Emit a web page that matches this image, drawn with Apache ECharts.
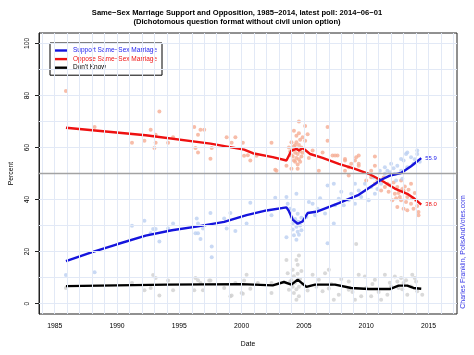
<!DOCTYPE html>
<html><head><meta charset="utf-8">
<script src="https://cdn.jsdelivr.net/npm/echarts@6/dist/echarts.min.js"></script>
<style>html,body{margin:0;padding:0;background:#fff}#c{width:474px;height:355px}</style>
</head><body><div id="c"></div>
<script>
// ---- data ----
const xTickLabels = [1985, 1990, 1995, 2000, 2005, 2010, 2015];
const yTickLabels = [0, 20, 40, 60, 80, 100];
const gridYears = [1984,1985,1986,1987,1988,1989,1990,1991,1992,1993,1994,1995,1996,1997,1998,1999,2000,2001,2002,2003,2004,2005,2006,2007,2008,2009,2010,2011,2012,2013,2014,2015,2016,2017];
const gridPercents = [0, 10, 20, 30, 40, 60, 70, 80, 90, 100];
const midLine = 50;

const supportTrend = [[1985.9,16.3],[1988,19.8],[1990,22.8],[1992.3,26.1],[1994.4,28.2],[1996.5,29.7],[1998.6,31.4],[2000.4,34.0],[2002,35.8],[2003.6,37.0],[2003.8,35.5],[2004.1,32.3],[2004.5,30.7],[2004.9,31.6],[2005.3,34.8],[2006.1,35.4],[2007.8,38.6],[2009.4,41.8],[2010.4,45.0],[2011.2,47.6],[2011.9,49.2],[2012.8,50.2],[2013.6,52.8],[2014.42,55.9]];
const opposeTrend = [[1985.9,67.6],[1992.3,64.7],[1997.5,61.5],[2000.2,59.2],[2000.9,57.8],[2002.5,56.3],[2003.6,55.0],[2004.0,58.8],[2004.4,59.5],[2004.6,58.8],[2004.9,59.8],[2005.5,57.5],[2006.5,56.0],[2007.8,53.7],[2009.1,51.8],[2010.2,49.9],[2011.2,47.4],[2012.3,44.2],[2013.3,42.2],[2013.8,40.6],[2014.42,38.0]];
const dontKnowTrend = [[1985.9,6.7],[1994,7.3],[2000,7.5],[2002.5,7.0],[2003.4,8.3],[2004.0,7.3],[2004.5,9.2],[2005.2,6.4],[2005.9,7.3],[2007.5,7.3],[2008.8,6.0],[2010.2,5.6],[2011.9,5.6],[2012.6,6.9],[2013.3,6.9],[2013.8,6.0],[2014.42,5.7]];

const supportPolls = [[1985.9,11.0],[1988.2,12.0],[1991.2,29.9],[1992.2,31.8],[1992.9,28.7],[1993.1,28.7],[1992.7,27.0],[1993.4,23.9],[1994.5,30.8],[1994.1,28.9],[1996.4,32.7],[1996.5,30.8],[1996.3,27.0],[1996.5,27.0],[1996.7,24.8],[1996.9,28.9],[1997.5,34.8],[1997.6,21.9],[1997.6,17.8],[1998.6,32.7],[1999.1,34.8],[1998.8,28.9],[1999.5,27.9],[2000.4,30.8],[2000.7,38.8],[2002.4,34.0],[2002.7,40.7],
[2003.6,41.0],[2003.7,38.4],[2004.0,33.3],[2004.1,30.8],[2004.4,29.5],[2004.5,27.6],[2004.6,31.4],[2004.8,28.2],[2003.6,25.5],[2004.2,26.3],[2004.4,42.2],[2004.3,32.5],[2004.5,34.5],[2004.2,36.0],[2004.7,30.0],[2004.4,24.5],[2004.6,26.5],[2003.9,36.5],[2004.1,28.5],[2004.8,33.0],[2004.5,31.5],
[2005.2,33.3],[2005.4,39.0],[2005.7,38.4],[2006.1,36.5],[2006.9,23.2],[2007.4,46.1],[2006.7,34.6],[2007.5,37.8],[2007.8,40.3],[2008.2,37.8],[2008.6,39.7],[2008.8,42.2],[2009.1,38.4],[2009.4,43.5],[2009.6,41.0],[2010.2,39.7],[2010.4,44.8],[2009.9,46.1],[2010.7,42.2],[2011.0,47.3],[2011.2,46.1],[2011.5,49.9],[2011.7,51.1],[2012.0,53.7],[2012.3,49.9],[2012.5,53.0],[2012.8,51.1],[2013.0,55.0],[2013.3,52.4],[2013.6,56.2],[2013.8,53.7],[2014.1,57.5],[2013.2,57.5],[2012.9,48.0],[2012.4,47.3],[2009.1,46.1],[2007.4,30.8],[2006.9,45.4],[2014.1,58.8],[2013.3,58.1],[2012.8,55.6],[2011.5,52.4],[2011.1,51.1],[2013.9,55.5],[2014.3,54.5],[2012.2,52.0],[2011.9,50.5],[2010.6,48.5],[2010.9,44.0],[2008.0,43.0],[2006.3,40.5],[2005.9,34.0]];

const opposePolls = [[1985.9,81.7],[1988.2,67.9],[1991.2,61.8],[1992.2,62.6],[1992.7,66.8],[1993.1,64.9],[1993.1,61.8],[1993.0,59.8],[1993.4,73.8],[1994.1,61.8],[1994.5,63.9],[1996.2,67.9],[1996.5,64.9],[1996.7,66.8],[1997.0,66.8],[1996.3,59.8],[1996.5,58.1],[1997.6,59.8],[1997.5,55.7],[1998.8,63.9],[1999.2,61.8],[1999.5,63.9],[2000.1,61.8],[2000.2,56.8],[2000.5,57.0],[2000.7,55.0],[2001.2,56.8],[2002.4,61.8],[2002.7,51.4],
[2002.8,51.1],[2003.6,53.0],[2004.0,51.8],[2004.5,51.8],[2004.6,70.0],[2004.2,66.4],[2005.1,68.3],[2005.3,65.1],[2004.9,63.9],[2004.0,57.0],[2004.1,59.0],[2004.2,60.5],[2004.3,61.0],[2004.3,58.0],[2004.4,56.0],[2004.4,62.0],[2004.5,59.5],[2004.5,57.5],[2004.6,61.0],[2004.6,55.5],[2004.7,58.5],[2004.7,63.0],[2004.8,56.5],[2004.8,60.0],[2004.2,55.0],[2004.0,62.0],[2003.9,58.5],[2004.4,64.5],[2004.6,65.5],[2004.9,58.0],[2004.3,54.5],[2004.5,53.5],[2004.1,56.5],[2003.8,60.0],[2004.7,54.5],
[2005.1,62.6],[2005.7,58.8],[2005.4,56.0],[2006.9,67.9],[2006.9,62.6],[2006.5,58.1],[2006.2,51.1],[2007.3,56.9],[2007.7,56.9],[2008.3,55.0],[2009.1,55.0],[2009.4,56.9],[2008.6,52.4],[2009.4,53.0],[2010.7,53.0],[2010.4,51.1],[2008.6,49.2],[2007.5,56.9],[2008.3,55.6],[2009.2,56.2],[2010.7,56.5],[2008.8,53.7],[2009.4,53.7],[2008.3,51.1],[2010.4,48.6],[2010.9,47.3],[2011.2,43.5],[2011.7,46.1],[2012.3,42.2],[2012.5,44.8],[2012.8,47.3],[2013.0,43.5],[2013.3,41.0],[2013.6,46.1],[2012.8,39.7],[2013.0,36.5],[2013.6,38.4],[2014.0,39.7],[2014.2,35.2],[2014.2,34.0],[2013.3,35.9],[2012.5,37.1],[2012.1,39.7],[2010.7,46.1],[2010.0,47.3],[2011.5,44.8],[2011.9,45.5],[2012.2,46.5],[2012.6,42.5],[2012.9,44.0],[2013.1,45.0],[2013.4,43.8],[2013.7,40.5],[2013.9,42.5],[2014.1,37.5],[2012.7,41.0],[2012.4,40.5],[2011.4,48.5],[2011.8,43.0],[2013.2,39.0],[2013.8,36.5]];

const dontKnowPolls = [[1985.9,6.0],[1991.2,7.9],[1992.2,5.1],[1992.7,6.0],[1992.9,11.0],[1993.1,9.8],[1993.4,3.1],[1994.1,8.9],[1994.5,5.1],[1996.2,5.1],[1996.3,9.8],[1996.5,9.0],[1996.7,7.9],[1996.9,5.1],[1997.4,8.9],[1997.5,8.9],[1998.6,6.0],[1999.1,2.8],[1999.2,3.1],[1999.5,7.9],[2000.0,4.1],[2000.1,3.8],[2000.2,8.9],[2000.4,11.1],[2000.7,5.7],[2001.3,7.9],[2002.4,4.1],[2002.4,7.9],
[2003.6,16.8],[2003.7,11.7],[2004.1,13.0],[2004.4,16.8],[2004.5,14.9],[2003.8,5.3],[2004.2,4.1],[2004.6,2.8],[2004.4,1.5],[2004.0,9.0],[2004.2,10.5],[2004.3,8.0],[2004.5,11.5],[2004.6,6.5],[2004.7,9.5],[2004.8,12.5],[2004.1,6.5],[2003.9,8.5],[2004.4,5.5],[2004.6,18.5],[2004.9,7.5],
[2005.7,11.1],[2006.2,9.2],[2006.7,11.7],[2007.0,13.0],[2006.5,4.7],[2007.4,1.5],[2007.8,3.4],[2008.6,8.5],[2009.1,1.5],[2009.4,11.1],[2009.9,10.4],[2010.4,2.8],[2010.7,9.2],[2011.2,1.5],[2011.5,11.1],[2011.7,3.4],[2012.3,10.4],[2012.5,8.5],[2012.8,9.8],[2013.0,7.9],[2013.3,3.4],[2013.7,11.1],[2014.1,4.7],[2014.5,3.4],[2008.6,5.3],[2009.6,2.8],[2012.0,6.6],[2013.6,6.6],[2014.0,8.5],[2005.3,5.0],[2006.0,6.5],[2007.2,7.5],[2008.0,9.5],[2008.9,4.5],[2010.0,6.0],[2011.0,4.5],[2012.9,5.5],[2013.2,9.0],[2012.6,6.0],[2013.9,9.8],[2011.9,8.0],[2010.5,7.5],[2009.2,22.9],[2007.0,5.8]];

const titleText = 'Same\u2212Sex Marriage Support and Opposition, 1985\u22122014, latest poll: 2014\u221206\u221201\n(Dichotomous question format without civil union option)';
const seriesNames = ['Support Same\u2212Sex Marriage', 'Oppose Same\u2212Sex Marriage', "Don't Know"];
const creditText = 'Charles Franklin, PollsAndVotes.com';

// ---- chart ----
const FONT = 'Liberation Sans, Arial, Helvetica, sans-serif';
const chart = echarts.init(document.getElementById('c'), null, {renderer: 'canvas'});
const gridColor = '#e2e9f6';
chart.setOption({
  animation: false,
  backgroundColor: '#fff',
  textStyle: {fontFamily: FONT},
  title: {
    text: titleText, left: 'center', top: 3,
    textStyle: {fontSize: 7.6, fontWeight: 'bold', color: '#000', lineHeight: 9.5, fontFamily: FONT}
  },
  legend: {
    orient: 'vertical', left: 50, top: 43,
    backgroundColor: '#fff', borderColor: '#000', borderWidth: 1,
    padding: [4, 5, 4, 5], itemGap: 1.6,
    itemWidth: 13, itemHeight: 2.4, icon: 'rect',
    itemStyle: {borderWidth: 0},
    lineStyle: {width: 0, opacity: 0},
    textStyle: {fontSize: 6.5, fontFamily: FONT},
    data: [
      {name: seriesNames[0], textStyle: {color: '#2222ee'}},
      {name: seriesNames[1], textStyle: {color: '#ee1111'}},
      {name: seriesNames[2], textStyle: {color: '#000'}}
    ]
  },
  grid: {left: 32, top: 33, width: 425, height: 281, show: true, borderColor: '#222', borderWidth: 1, backgroundColor: 'transparent'},
  xAxis: {
    type: 'value', min: 1983.737, max: 2017.29,
    name: 'Date', nameLocation: 'middle', nameGap: 27,
    nameTextStyle: {fontSize: 6.8, color: '#000', fontFamily: FONT},
    axisLine: {show: true, lineStyle: {color: '#222'}},
    axisTick: {show: true, length: 4, customValues: xTickLabels, lineStyle: {color: '#222'}},
    axisLabel: {customValues: xTickLabels, formatter: v => String(Math.round(v)), fontSize: 6.8, color: '#000', margin: 9, fontFamily: FONT},
    splitLine: {show: false}
  },
  yAxis: {
    type: 'value', min: -4, max: 104,
    name: 'Percent', nameLocation: 'middle', nameGap: 24, nameRotate: 90,
    nameTextStyle: {fontSize: 6.8, color: '#000', fontFamily: FONT},
    axisLine: {show: true, lineStyle: {color: '#222'}},
    axisTick: {show: true, length: 4, customValues: yTickLabels, lineStyle: {color: '#222'}},
    axisLabel: {customValues: yTickLabels, formatter: v => String(Math.round(v)), rotate: 90, fontSize: 6.8, color: '#000', margin: 8, fontFamily: FONT},
    splitLine: {show: false}
  },
  graphic: [{
    type: 'text', x: 463, y: 252, rotation: Math.PI / 2,
    style: {text: creditText, fill: '#3a3ae6', font: '6.9px ' + FONT, align: 'center', verticalAlign: 'middle'}
  }],
  series: [
    {
      type: 'line', data: [], z: 0, silent: true,
      markLine: {
        silent: true, symbol: 'none', label: {show: false}, animation: false,
        lineStyle: {color: gridColor, width: 1, type: 'solid'},
        data: gridYears.map(v => ({xAxis: v})).concat(gridPercents.map(v => ({yAxis: v})))
      }
    },
    {
      type: 'line', data: [], z: 1, silent: true,
      markLine: {
        silent: true, symbol: 'none', label: {show: false}, animation: false,
        lineStyle: {color: '#a3a3a3', width: 1.3, type: 'solid'},
        data: [{yAxis: midLine}]
      }
    },
    {type: 'scatter', data: dontKnowPolls, symbolSize: 4, itemStyle: {color: '#cfcfcf'}, z: 2, silent: true},
    {type: 'scatter', data: opposePolls, symbolSize: 4, itemStyle: {color: '#f5ad94'}, z: 2, silent: true},
    {type: 'scatter', data: supportPolls, symbolSize: 4, itemStyle: {color: '#bcd0f1'}, z: 2, silent: true},
    {
      name: seriesNames[2], type: 'line', data: dontKnowTrend, showSymbol: false, symbol: 'none', z: 3,
      lineStyle: {color: '#000', width: 2.4}, itemStyle: {color: '#000'}
    },
    {
      name: seriesNames[1], type: 'line', data: opposeTrend, showSymbol: false, symbol: 'none', z: 3,
      lineStyle: {color: '#ee1111', width: 2.4}, itemStyle: {color: '#ee1111'},
      endLabel: {show: true, formatter: p => p.value[1].toFixed(1), color: '#ee1111', fontSize: 6, distance: 4, fontFamily: FONT}
    },
    {
      name: seriesNames[0], type: 'line', data: supportTrend, showSymbol: false, symbol: 'none', z: 3,
      lineStyle: {color: '#1515dd', width: 2.4}, itemStyle: {color: '#1515dd'},
      endLabel: {show: true, formatter: p => p.value[1].toFixed(1), color: '#2222ee', fontSize: 6, distance: 4, fontFamily: FONT}
    }
  ]
});
</script>
</body></html>
